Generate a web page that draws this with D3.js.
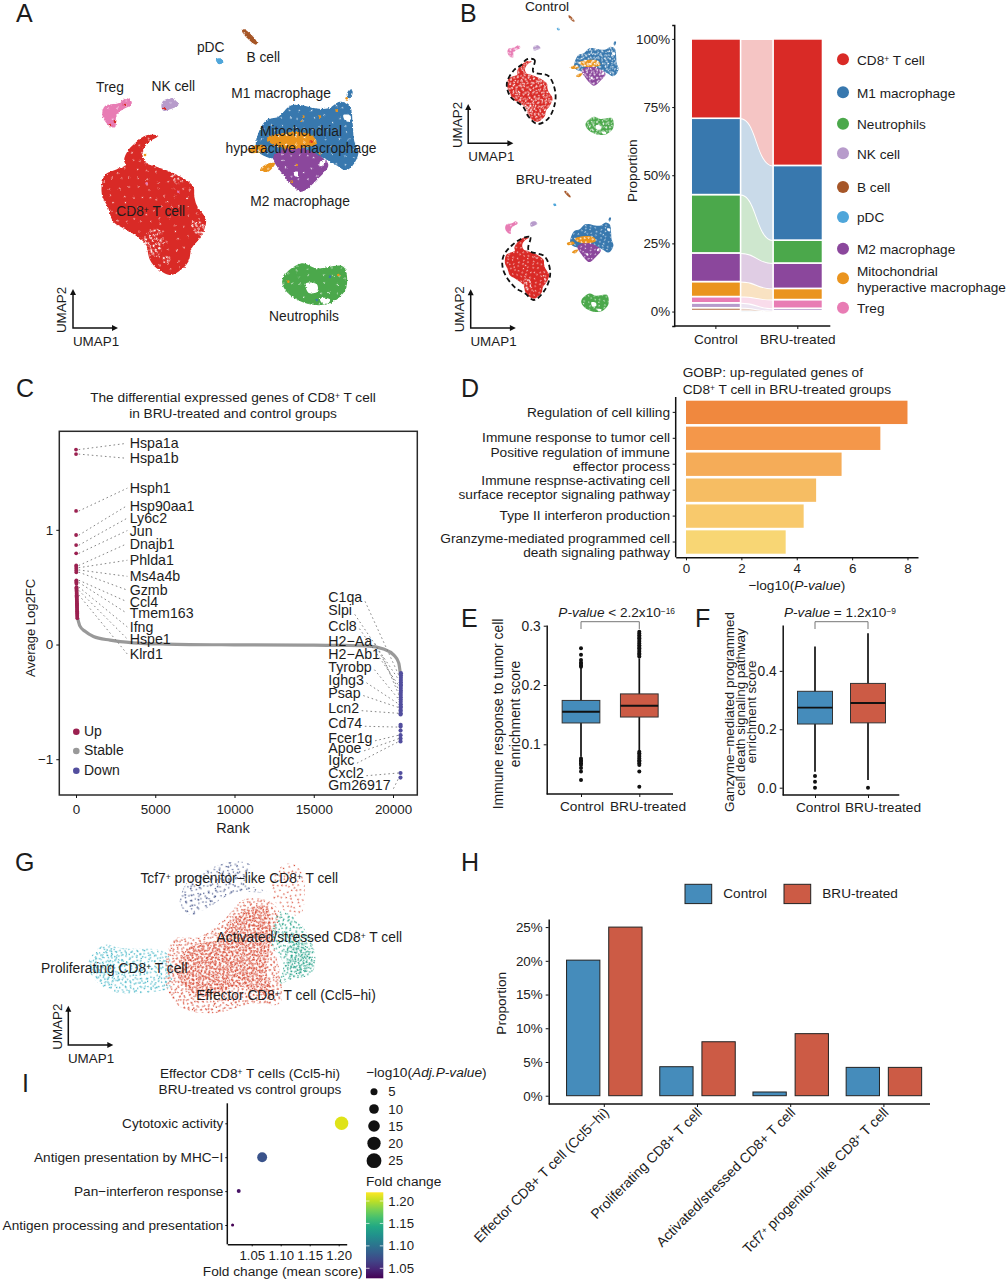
<!DOCTYPE html>
<html>
<head>
<meta charset="utf-8">
<script src="https://cdn.jsdelivr.net/npm/d3@7"></script>
<style>
html,body{margin:0;padding:0;background:#fff}
svg{display:block}
text{font-family:'Liberation Sans',Arial,sans-serif;fill:#1c1c1c}
</style>
</head>
<body>
<svg id="fig" width="1007" height="1280"></svg>
<script>
// ---------- cell atlas: cluster outlines on the embedding grid ----------
const clusterColor = {
  cd8:'#D92A26', m1:'#3878AE', neu:'#4BA84B', nk:'#B79BCB', bcell:'#A65628',
  pdc:'#4FA6DA', m2:'#8B479C', mito:'#EA941E', treg:'#E87CB4'
};
const cd8Outline = [[475,408],[440,406],[410,425],[385,450],[372,480],[376,495],[345,510],[315,525],[305,580],[325,625],[340,665],[390,695],[435,730],[450,780],[470,805],[510,825],[535,815],[565,785],[575,745],[595,720],[610,695],[618,660],[590,615],[583,590],[580,560],[550,535],[510,515],[470,500],[440,490],[428,468],[432,445],[448,425]];
const tregOutline = [[395,305],[380,295],[355,310],[315,318],[307,345],[325,375],[345,382],[350,345],[375,325],[393,315]];
const nkOutline = [[490,302],[520,296],[535,315],[510,328],[490,332],[484,318]];
const pdcOutline = [[648,178],[662,175],[670,188],[655,192]];
const bcellOutline = [[726,92],[733,88],[772,128],[768,134],[745,118]];
const m1Outline = [[800,360],[835,350],[870,318],[900,315],[945,325],[985,325],[1020,305],[1050,320],[1058,370],[1062,420],[1075,460],[1055,500],[1035,510],[1000,490],[960,470],[880,445],[820,475],[770,450],[775,400]];
const m1Tail = [[1040,285],[1050,268],[1058,275],[1048,298]];
const m2Outline = [[820,470],[880,440],[960,468],[985,495],[950,540],[905,575],[880,560],[850,525]];
const mitoCore = [[800,415],[880,396],[935,405],[950,430],[900,445],[830,440]];
const mitoLeft = [[745,445],[790,435],[800,450],[750,458]];
const mitoLower = [[780,510],[800,492],[825,490],[805,515]];
const neuOutline = [[850,830],[905,790],[950,805],[1030,800],[1040,860],[1020,890],[985,912],[925,912],[870,885],[848,855]];
const atlasShapes = [
  ['cd8',cd8Outline],['treg',tregOutline],['nk',nkOutline],['pdc',pdcOutline],['bcell',bcellOutline],
  ['m1',m1Outline],['m1',m1Tail],['m2',m2Outline],['mito',mitoCore],['mito',mitoLeft],['mito',mitoLower],['neu',neuOutline]
];
const sparseHoles = [
  [[430,720],[450,690],[480,690],[492,730],[470,770],[445,755]],
  [[490,768],[510,770],[508,790],[490,788]],
  [[515,525],[540,530],[540,552],[518,545]],
  [[575,665],[612,670],[606,705],[585,700]]
];
const solidHoles = [
  [[918,850],[950,852],[952,875],[925,878]],[[960,895],[990,898],[985,910],[965,908]],
  [[882,515],[895,517],[896,530],[884,528]],[[1030,345],[1052,348],[1048,365],[1034,360]],
  [[960,500],[975,490],[975,480],[960,485]]
];
const strayCells = [
  ['mito',910,350],['mito',960,350],['mito',905,365],['mito',1010,332],['mito',1040,295],['mito',960,460],
  ['cd8',935,425],['mito',1015,825],['mito',865,845],['treg',440,550],['treg',535,575],['mito',435,465],
  ['cd8',345,365],['cd8',330,375],['cd8',375,315],['cd8',492,325],['mito',890,495],['mito',875,545],['m1',990,830],['m1',950,900]
];
const gateControl = [[240,178],[262,180],[258,215],[300,228],[318,270],[318,310],[300,355],[270,372],[245,350],[230,320],[195,290],[185,250],[205,210],[225,195]];
const gateTreated = [[235,712],[250,712],[245,750],[290,770],[305,820],[290,870],[260,900],[235,880],[205,860],[175,810],[175,770],[200,735]];

// irregular dot tile shared by every stippled region
const stippleTile = [[2,5],[9,1],[15,7],[22,3],[29,9],[36,2],[44,6],[5,13],[12,16],[19,12],[26,17],[33,14],[40,11],[46,18],[1,22],[8,25],[16,21],[23,26],[30,23],[37,20],[43,27],[4,31],[11,34],[18,30],[27,33],[34,29],[41,35],[47,32],[7,40],[14,43],[21,38],[28,42],[35,39],[42,44],[3,46],[17,47],[31,46],[24,10],[39,24],[13,28]];

// ---------- panel B: composition ----------
const stackClusters = ['cd8','m1','neu','m2','mito','treg','nk','bcell','pdc'];
const controlShare = [29.1,28.0,21.4,10.5,5.5,2.3,1.8,1.0,0.4];
const treatedShare = [46.4,27.4,8.4,9.3,4.1,3.2,0.9,0.2,0.1];
const legendClusters = ['cd8','m1','neu','nk','bcell','pdc','m2','mito','treg'];
const legendNames = ['CD8^+^ T cell','M1 macrophage','Neutrophils','NK cell','B cell','pDC','M2 macrophage',['Mitochondrial','hyperactive macrophage'],'Treg'];
const groups = ['Control','BRU-treated'];

// ---------- panel C: ranked differential expression ----------
const stableRank = [100,250,570,1100,2150,3600,5700,10000,15000,17000,18360,19400,20040,20360,20460];
const stableFC = [0.23,0.16,0.115,0.07,0.038,0.015,0.004,-0.003,-0.006,-0.008,-0.012,-0.04,-0.09,-0.16,-0.25];
const upFC = [1.70,1.66,1.165,0.955,0.867,0.795,0.69,0.675,0.66,0.645,0.63,0.56,0.55,0.54,0.53,0.50,0.49,0.48,0.47,0.46,0.45,0.44,0.43,0.42,0.41,0.40,0.39,0.38,0.37,0.36,0.35,0.34,0.33,0.32,0.31,0.30,0.29,0.28,0.27,0.26,0.25,0.24,0.23];
const downFC = [-0.25,-0.27,-0.29,-0.31,-0.33,-0.35,-0.36,-0.38,-0.40,-0.42,-0.44,-0.46,-0.48,-0.50,-0.52,-0.54,-0.55,-0.57,-0.58,-0.60,-0.61,-0.70,-0.715,-0.75,-0.79,-0.82,-0.845,-1.12,-1.16];
const upGenes = ['Hspa1a','Hspa1b','Hsph1','Hsp90aa1','Ly6c2','Jun','Dnajb1','Phlda1','Ms4a4b','Gzmb','Ccl4','Tmem163','Ifng','Hspe1','Klrd1'];
const upGeneFC = [1.70,1.66,1.165,0.955,0.867,0.795,0.69,0.67,0.65,0.63,0.56,0.54,0.50,0.47,0.43];
const upLabelY = [443.3,458.3,488.3,505.7,518.3,530.7,543.7,560.3,576.3,590,601.7,613.3,626.7,638.7,653.7];
const downGenes = ['C1qa','Slpi','Ccl8','H2\u2212Aa','H2\u2212Ab1','Tyrobp','Ighg3','Psap','Lcn2','Cd74','Fcer1g','Apoe','Igkc','Cxcl2','Gm26917'];
const downGeneFC = [-0.27,-0.31,-0.36,-0.40,-0.44,-0.48,-0.52,-0.55,-0.60,-0.72,-0.79,-0.82,-0.845,-1.12,-1.16];
const downLabelY = [596.7,609.7,626,640.7,654.3,667,680,692.7,707.7,723.3,737.7,747.7,760,772.7,785.3];

// ---------- panel D: enrichment ----------
const goTerms = ['Regulation of cell killing','Immune response to tumor cell',['Positive regulation of immune','effector process'],['Immune respnse-activating cell','surface receptor signaling pathway'],'Type II interferon production',['Granzyme-mediated programmed cell','death signaling pathway']];
const goScores = [8.0,7.02,5.62,4.7,4.25,3.6];
const goColors = ['#F0883E','#F4974A','#F5AC58','#F6BD63','#F8C96C','#F8D674'];
const goLabelShift = [0,-1,-4.7,-3.3,-0.5,2.7];

// ---------- panels E, F: enrichment score distributions (low, q1, median, q3, high) ----------
const eControlBox = [0.079,0.136,0.155,0.174,0.234];
const eTreatedBox = [0.090,0.146,0.165,0.185,0.245];
const eControlOut = [0.262,0.251,0.242,0.238,0.236,0.233,0.231,0.076,0.073,0.071,0.068,0.065,0.060,0.054,0.040];
const eTreatedOut = [0.290,0.287,0.284,0.281,0.279,0.276,0.273,0.270,0.267,0.264,0.262,0.259,0.256,0.253,0.251,0.248,0.0875,0.085,0.082,0.079,0.076,0.073,0.071,0.068,0.065,0.054,0.0285];
const fControlBox = [0.055,0.218,0.274,0.33,0.483];
const fTreatedBox = [0.026,0.222,0.29,0.357,0.529];
const fControlOut = [0.04,0.02,0.0];
const fTreatedOut = [0.0];

// ---------- panel G: CD8 T cell subclusters ----------
const subColor = {tcf7:'#3F4F86', eff:'#D6452F', act:'#149A80', pro:'#35B0C2'};
const tcf7Region = [[540,190],[560,130],[620,90],[700,65],[750,75],[740,130],[800,155],[700,160],[620,205],[570,225]];
const effRegion = [[500,440],[520,300],[600,290],[680,230],[730,180],[800,180],[840,220],[820,300],[840,400],[840,490],[760,490],[640,520],[540,500]];
const effCore = [[530,400],[570,320],[650,300],[720,220],[800,200],[810,300],[800,400],[820,470],[720,440],[600,470]];
const effRing = [[810,150],[850,75],[900,80],[915,150],[900,225],[850,210]];
const actRegion = [[840,215],[900,250],[945,340],[935,400],[870,420],[840,430],[850,370],[815,310]];
const actCore = [[870,300],[930,330],[935,385],[870,405],[860,350]];
const proRegion = [[265,370],[310,315],[370,325],[500,340],[510,440],[460,455],[340,455],[285,420]];
const proCore = [[275,370],[315,325],[365,340],[370,420],[300,425]];

// ---------- panel H ----------
const subsetNames = ['Effector CD8+ T cell (Ccl5\u2212hi)','Proliferating CD8+ T cell','Activated/stressed CD8+ T cell','Tcf7^+^ progenitor\u2212like CD8^+^ T cell'];
const subsetControl = [20.1,4.3,0.55,4.2];
const subsetTreated = [25.0,8.0,9.2,4.2];

// ---------- panel I ----------
const pathways = ['Cytotoxic activity','Antigen presentation by MHC\u2212I','Pan\u2212interferon response','Antigen processing and presentation'];
const pathFold = [1.205,1.068,1.0276,1.017];
const pathLogP = [23,12.5,2,1.2];
const sizeLegend = [5,10,15,20,25];
const colorLegend = [1.20,1.15,1.10,1.05];

const blue = '#458CBB', red = '#CC5B45';
const svg = d3.select('#fig');
const defs = svg.append('defs');

// Rough cell-cloud edges for the embedding panels.
function roughFilter(id,scale){
  const f = defs.append('filter').attr('id',id).attr('x','-5%').attr('y','-5%').attr('width','110%').attr('height','110%');
  f.append('feTurbulence').attr('type','fractalNoise').attr('baseFrequency',0.55).attr('numOctaves',1).attr('seed',4).attr('result','n');
  f.append('feDisplacementMap').attr('in','SourceGraphic').attr('in2','n').attr('scale',scale).attr('xChannelSelector','R').attr('yChannelSelector','G');
}
roughFilter('rough',3.2);
roughFilter('roughSmall',1.8);

let stippleCount = 0;
function stipple(color, angle, scale, r){
  const id = 'st' + (stippleCount++);
  const p = defs.append('pattern').attr('id',id).attr('patternUnits','userSpaceOnUse')
    .attr('width',48).attr('height',48).attr('patternTransform',`rotate(${angle}) scale(${scale})`);
  p.selectAll('circle').data(stippleTile).join('circle')
    .attr('cx',d=>d[0]).attr('cy',d=>d[1]).attr('r',r).attr('fill',color);
  return `url(#${id})`;
}

// Text helper: ^x^ is a superscript, *x* is italic.
function rich(sel, s){
  sel.text(null);
  s.split(/(\^[^^]*\^|\*[^*]*\*)/).filter(Boolean).forEach(tok=>{
    if(tok[0]==='^'){
      sel.append('tspan').attr('font-size','62%').attr('baseline-shift','38%').text(tok.slice(1,-1));
    } else if(tok[0]==='*'){
      sel.append('tspan').attr('font-style','italic').text(tok.slice(1,-1));
    } else sel.append('tspan').text(tok);
  });
  return sel;
}
const T = 13.7;
function label(x,y,s,size=T,anchor='middle',rot=0){
  const t = svg.append('text').attr('transform',`translate(${x},${y}) rotate(${rot})`)
    .attr('text-anchor',anchor).attr('dy','.35em').attr('font-size',size);
  return rich(t,s);
}
function styleAxis(g,size,width=1.5){
  g.selectAll('.domain').attr('stroke','#111').attr('stroke-width',width);
  g.selectAll('.tick line').attr('stroke','#111').attr('stroke-width',1);
  g.selectAll('.tick text').attr('font-size',size).attr('fill','#1c1c1c').style('font-family',"'Liberation Sans',Arial,sans-serif");
  return g;
}
function umapArrows(ox,oy,top,right,lab1,lab2){
  const a = svg.append('g').attr('stroke','#111').attr('stroke-width',1.5).attr('fill','none');
  a.append('path').attr('d',d3.line()([[ox,top+4],[ox,oy],[right-4,oy]]));
  const h = svg.append('g').attr('fill','#111');
  h.append('path').attr('d',`M${ox},${top}l-3,6h6z`);
  h.append('path').attr('d',`M${right},${oy}l-6,-3v6z`);
  label(lab1[0],lab1[1],'UMAP1',13.4);
  label(lab2[0],lab2[1],'UMAP2',13.4,'middle',-90);
}
const panelLetters = [['A',16,22],['B',460,22],['C',16,397],['D',461,397],['E',461,627],['F',695,627],['G',15,871],['H',461,871],['I',22,1092]];
svg.selectAll('text.letter').data(panelLetters).join('text').attr('class','letter')
  .attr('x',d=>d[1]).attr('y',d=>d[2]).attr('font-size',25).text(d=>d[0]);

// ---------- atlas drawing shared by panels A and B ----------
function drawAtlas(xr,yr,speck,filterId,withDetail){
  const x = d3.scaleLinear().domain([0,1320]).range(xr);
  const y = d3.scaleLinear().domain([0,1080]).range(yr);
  const path = d3.line().x(d=>x(d[0])).y(d=>y(d[1])).curve(d3.curveCatmullRomClosed);
  const g = svg.append('g').attr('filter',`url(#${filterId})`);
  g.selectAll('path.c').data(atlasShapes).join('path').attr('class','c')
    .attr('d',d=>path(d[1])).attr('fill',d=>clusterColor[d[0]]);
  speck.forEach((sp,k)=>g.selectAll('path.s'+k).data(atlasShapes).join('path').attr('class','s'+k)
    .attr('d',d=>path(d[1])).attr('fill',sp));
  g.selectAll('path.h').data(sparseHoles).join('path').attr('class','h').attr('d',path).attr('fill',stipple('#fff',15,0.5,withDetail?2.2:1.8));
  g.selectAll('path.w').data(solidHoles).join('path').attr('class','w').attr('d',path).attr('fill','#fff');
  if(withDetail){
    g.selectAll('circle').data(strayCells).join('circle').attr('cx',d=>x(d[1])).attr('cy',d=>y(d[2])).attr('r',1.3).attr('fill',d=>clusterColor[d[0]]);
  }
}

// Panel A
drawAtlas([0,440],[0,360],[stipple('#fff',30,1.2,0.6)],'rough',true);
[[210.7,46.7,'pDC'],[263.3,56.7,'B cell'],[110,87.3,'Treg'],[173.3,86,'NK cell'],[281,92.7,'M1 macrophage'],
 [301,131,'Mitochondrial'],[301,147.7,'hyperactive macrophage'],[150.7,210.7,'CD8^+^ T cell'],[300,201,'M2 macrophage'],[304,315.7,'Neutrophils']]
  .forEach(d=>label(d[0],d[1],d[2],13.8));
umapArrows(73,328,289,118,[96,341.7],[61.7,310]);

// Panel B embeddings: the control sample is the sparser of the two
drawAtlas([463.1,654],[2.6,158.7],[stipple('#fff',20,0.5,1.35),stipple('#fff',75,0.6,1.2),stipple('#fff',125,0.55,1.1)],'roughSmall',false);
drawAtlas([461.9,648],[178,336],[stipple('#fff',50,0.55,1.15)],'roughSmall',false);
const gx = d3.scaleLinear().domain([0,1701]).range([440,1054.7]);
const gy = d3.scaleLinear().domain([0,1080]).range([0,360]);
const gatePath = d3.line().x(d=>gx(d[0])).y(d=>gy(d[1])).curve(d3.curveCatmullRomClosed);
[gateControl,gateTreated].forEach(p=>svg.append('path').attr('d',gatePath(p)).attr('fill','none')
  .attr('stroke','#111').attr('stroke-width',1.8).attr('stroke-dasharray','5 3'));
label(547,6.7,'Control');
label(553.8,179.3,'BRU-treated');
umapArrows(468.2,143.3,104,513.4,[491.3,156.7],[457,125]);
umapArrows(470.7,328,289.3,515.9,[493.5,341.7],[458.8,309.3]);

// Panel B stacked composition with alluvial ribbons
(function(){
  const table = groups.map((g,i)=>{
    const row = {group:g};
    stackClusters.forEach((c,k)=>row[c]=(i?treatedShare:controlShare)[k]);
    return row;
  });
  const series = d3.stack().keys(stackClusters.slice().reverse())(table);
  const x = d3.scaleBand().domain(groups).range([678.9,834.8]).paddingInner(0.397).paddingOuter(0.15);
  const y = d3.scaleLinear().domain([-5.3,105.1]).range([326,25]);
  const area = d3.area().curve(d3.curveBumpX).x(d=>d[0]).y0(d=>d[1]).y1(d=>d[2]);
  const line = d3.line().curve(d3.curveBumpX);
  const x0 = x('Control')+x.bandwidth(), x1 = x('BRU-treated');
  series.forEach(s=>{
    const pts = [[x0,y(s[0][0]),y(s[0][1])],[x1,y(s[1][0]),y(s[1][1])]];
    svg.append('path').attr('d',area(pts)).attr('fill',clusterColor[s.key]).attr('fill-opacity',0.27);
    svg.append('path').attr('d',line([[x0,pts[0][2]],[x1,pts[1][2]]])).attr('fill','none').attr('stroke','#fff').attr('stroke-width',2);
    s.forEach((d,i)=>svg.append('rect').attr('x',x(groups[i])).attr('width',x.bandwidth())
      .attr('y',y(d[1])).attr('height',Math.max(0,y(d[0])-y(d[1]))).attr('fill',clusterColor[s.key]).attr('stroke','#fff').attr('stroke-width',1.6));
  });
  const ax = svg.append('g').attr('transform','translate(674.2,0)')
    .call(d3.axisLeft(y).tickValues([0,25,50,75,100]).tickFormat(d=>d+'%').tickSizeOuter(0).tickSize(2));
  styleAxis(ax,13.4);
  ax.selectAll('.tick text').attr('x',-4);
  const bx = svg.append('g').attr('transform','translate(0,326)').call(d3.axisBottom(x).tickSize(3).tickSizeOuter(0));
  bx.select('.domain').remove();
  styleAxis(bx,13.6);
  svg.append('line').attr('x1',674.2).attr('x2',830.3).attr('y1',326).attr('y2',326).attr('stroke','#111').attr('stroke-width',1.5);
  bx.selectAll('.tick text').attr('dy','.9em');
  label(632.3,170.7,'Proportion',13.6,'middle',-90);
  const legendY = [59.3,92.3,123.7,153.3,187,217,248.7,278.3,307.7];
  legendClusters.forEach((c,i)=>{
    svg.append('circle').attr('cx',843).attr('cy',legendY[i]).attr('r',6).attr('fill',clusterColor[c]);
    const n = legendNames[i];
    if(Array.isArray(n)){
      label(857,271.5,n[0],13.6,'start');
      label(857,287.5,n[1],13.6,'start');
    } else label(857,legendY[i]+0.5,n,13.6,'start');
  });
})();

// Panel C
(function(){
  const x = d3.scaleLinear().domain([-1054,21533]).range([59.3,417.3]);
  const y = d3.scaleLinear().domain([-1.312,1.859]).range([795,431.3]);
  const upColor = '#9B2050', downColor = '#524E9E', stableColor = '#999';
  label(233,397,'The differential expressed genes of CD8^+^ T cell');
  label(233,413.6,'in BRU-treated and control groups');
  const stable = d3.line().x((d,i)=>x(stableRank[i])).y(d=>y(d)).curve(d3.curveMonotoneX);
  svg.append('path').attr('d',stable(stableFC)).attr('fill','none').attr('stroke',stableColor).attr('stroke-width',3.2);
  svg.selectAll('circle.up').data(upFC).join('circle').attr('class','up')
    .attr('cx',(d,i)=>x(i*2)).attr('cy',d=>y(d)).attr('r',1.9).attr('fill',upColor);
  svg.selectAll('circle.down').data(downFC).join('circle').attr('class','down')
    .attr('cx',(d,i)=>x(20500-i)).attr('cy',d=>y(d)).attr('r',2.1).attr('fill',downColor);
  const dotted = (x1,y1,x2,y2)=>svg.append('line').attr('x1',x1).attr('y1',y1).attr('x2',x2).attr('y2',y2)
    .attr('stroke','#777').attr('stroke-width',0.9).attr('stroke-dasharray','0.8 3.6').attr('stroke-linecap','round');
  upGenes.forEach((g,i)=>{
    dotted(x(0)+3,y(upGeneFC[i]),127,upLabelY[i]);
    label(129.7,upLabelY[i],g,14.2,'start');
  });
  downGenes.forEach((g,i)=>{
    const t = label(328.3,downLabelY[i],g,14.2,'start');
    const end = 328.3 + t.node().getComputedTextLength();
    dotted(end+3,downLabelY[i]+(i<2?5:3),x(20500)-2,y(downGeneFC[i]));
  });
  svg.append('rect').attr('x',59.3).attr('y',431.3).attr('width',358).attr('height',363.7).attr('fill','none').attr('stroke','#2a2a2a').attr('stroke-width',1.5);
  const ax = svg.append('g').attr('transform','translate(59.3,0)').call(d3.axisLeft(y).tickValues([-1,0,1]).tickFormat(d3.format('d')).tickSize(3).tickSizeOuter(0));
  ax.select('.domain').remove(); styleAxis(ax,13.4);
  const bx = svg.append('g').attr('transform','translate(0,795)').call(d3.axisBottom(x).tickValues([0,5000,10000,15000,20000]).tickFormat(d3.format('d')).tickSize(3).tickSizeOuter(0));
  bx.select('.domain').remove(); styleAxis(bx,13.4);
  bx.selectAll('.tick text').attr('dy','.95em');
  label(233,828,'Rank',14.4);
  label(30,628,'Average Log2FC',13,'middle',-90);
  [['Up',upColor,731.7],['Stable',stableColor,751],['Down',downColor,770.7]].forEach(d=>{
    svg.append('circle').attr('cx',76.3).attr('cy',d[2]).attr('r',3.3).attr('fill',d[1]);
    label(84,d[2]-0.8,d[0],14,'start');
  });
})();

// Panel D
(function(){
  const x = d3.scaleLinear().domain([-0.372,8.38]).range([675.7,918]);
  const y = d3.scaleBand().domain(d3.range(goTerms.length)).range([400.7,553.7]).paddingInner(0.1);
  svg.selectAll('rect.go').data(goScores).join('rect').attr('class','go')
    .attr('x',x(0)).attr('y',(d,i)=>y(i)).attr('width',d=>x(d)-x(0)).attr('height',y.bandwidth()).attr('fill',(d,i)=>goColors[i]);
  const bx = svg.append('g').attr('transform','translate(0,557.3)').call(d3.axisBottom(x).tickValues([0,2,4,6,8]).tickSize(3).tickSizeOuter(0));
  styleAxis(bx,13.4);
  const ax = svg.append('g').attr('transform','translate(675.7,0)').call(d3.axisLeft(y).tickFormat('').tickSize(3).tickSizeOuter(0));
  ax.select('.domain').remove(); styleAxis(ax,13);
  svg.append('line').attr('x1',675.7).attr('x2',675.7).attr('y1',397).attr('y2',557.3).attr('stroke','#111').attr('stroke-width',1.5);
  goTerms.forEach((t,i)=>{
    const c = y(i)+y.bandwidth()/2+goLabelShift[i];
    if(Array.isArray(t)){
      label(670,c-7,t[0],T,'end');
      label(670,c+7,t[1],T,'end');
    } else label(670,c,t,T,'end');
  });
  label(682.7,372.7,'GOBP: up-regulated genes of',T,'start');
  label(682.7,389.3,'CD8^+^ T cell in BRU-treated groups',T,'start');
  label(796.7,585.7,'\u2212log10(*P-value*)');
})();

// Panels E and F share the same box-and-whisker construction.
function boxPanel(o){
  const y = d3.scaleLinear().domain(o.domain).range([o.bottom,625]);
  const x = d3.scalePoint().domain(groups).range(o.centers);
  const ax = svg.append('g').attr('transform',`translate(${o.left},0)`)
    .call(d3.axisLeft(y).tickValues(o.ticks).tickFormat(d3.format('.1f')).tickSize(3).tickSizeOuter(0));
  styleAxis(ax,13.8);
  const bx = svg.append('g').attr('transform',`translate(0,${o.bottom})`).call(d3.axisBottom(x).tickSize(3).tickSizeOuter(0).tickFormat(''));
  bx.select('.domain').remove(); styleAxis(bx,13.6);
  groups.forEach((g,i)=>label(o.labelX[i],o.bottom+12.5,g,13.7));
  svg.append('line').attr('x1',o.left).attr('x2',o.right).attr('y1',o.bottom).attr('y2',o.bottom).attr('stroke','#111').attr('stroke-width',1.5);
  groups.forEach((g,i)=>{
    const s = o.boxes[i], cx = x(g), w = o.boxWidth;
    svg.append('line').attr('x1',cx).attr('x2',cx).attr('y1',y(s[0])).attr('y2',y(s[4])).attr('stroke','#111').attr('stroke-width',1.7);
    svg.append('rect').attr('x',cx-w/2).attr('width',w).attr('y',y(s[3])).attr('height',y(s[1])-y(s[3]))
      .attr('fill',i?red:blue).attr('stroke','#333').attr('stroke-width',1);
    svg.append('line').attr('x1',cx-w/2).attr('x2',cx+w/2).attr('y1',y(s[2])).attr('y2',y(s[2])).attr('stroke','#111').attr('stroke-width',1.9);
    svg.selectAll(null).data(o.out[i]).join('circle').attr('cx',cx).attr('cy',d=>y(d)).attr('r',2).attr('fill','#111');
  });
  const c = o.centers;
  svg.append('path').attr('d',d3.line()([[c[0],629],[c[0],621.7],[c[1],621.7],[c[1],629]])).attr('fill','none').attr('stroke','#777').attr('stroke-width',1);
  label(o.pText,612.7,o.pLabel,13.6);
}
boxPanel({left:546.7,right:673,bottom:794,domain:[0.0162,0.3012],ticks:[0.1,0.2,0.3],centers:[581,639.3],boxWidth:37.7,labelX:[582,648],
  boxes:[eControlBox,eTreatedBox],out:[eControlOut,eTreatedOut],pText:616.7,pLabel:'*P-value* < 2.2x10^\u221216^'});
label(498,714,'Immune response to tumor cell',13.9,'middle',-90);
label(515,714,'enrichment score',13.9,'middle',-90);
boxPanel({left:782.7,right:899.3,bottom:795,domain:[-0.025,0.557],ticks:[0,0.2,0.4],centers:[815,868],boxWidth:35,labelX:[818,883],
  boxes:[fControlBox,fTreatedBox],out:[fControlOut,fTreatedOut],pText:840,pLabel:'*P-value* = 1.2x10^\u22129^'});
label(729,712,'Ganzyme\u2212mediated programmed',13.4,'middle',-90);
label(740,712,'cell death signaling pathway',13.4,'middle',-90);
label(751,712,'enrichment score',13.4,'middle',-90);

// Panel G: stippled density of each subcluster
(function(){
  const x = d3.scaleLinear().domain([0,1320]).range([0,440]);
  const y = d3.scaleLinear().domain([0,690]).range([840,1070]);
  const path = d3.line().x(d=>x(d[0])).y(d=>y(d[1])).curve(d3.curveCatmullRomClosed);
  const layers = [
    [tcf7Region,subColor.tcf7,[[10,0.62,1.15],[60,0.9,1.0]]],
    [proRegion,subColor.pro,[[15,0.55,1.35],[65,0.7,1.15]]],
    [proCore,subColor.pro,[[40,0.6,1.2]]],
    [effRegion,subColor.eff,[[20,0.55,1.4],[70,0.6,1.25]]],
    [effCore,subColor.eff,[[110,0.5,1.5],[45,0.5,1.5],[150,0.62,1.25]]],
    [effRing,subColor.eff,[[30,0.6,1.3]]],
    [actRegion,subColor.act,[[25,0.55,1.4],[80,0.6,1.25]]],
    [actCore,subColor.act,[[55,0.5,1.5],[120,0.6,1.25]]]
  ];
  layers.forEach(l=>l[2].forEach(p=>{
    svg.append('path').attr('d',path(l[0])).attr('fill',stipple(l[1],p[0],p[1],p[2]));
  }));
  label(239.3,877.7,'Tcf7^+^ progenitor\u2212like CD8^+^ T cell',13.8);
  label(309.3,936.7,'Activated/stressed CD8^+^ T cell',13.8);
  label(114.3,968.3,'Proliferating CD8^+^ T cell',13.8);
  label(286,995,'Effector CD8^+^ T cell (Ccl5\u2212hi)',13.8);
  umapArrows(68.3,1045,1005.7,113.3,[91,1058.3],[57.3,1026.7]);
})();

// Panel H
(function(){
  const x = d3.scaleBand().domain(subsetNames).range([557.7,930.5]);
  const inner = d3.scaleBand().domain(groups).range([0,x.bandwidth()]).padding(0.21);
  const y = d3.scaleLinear().domain([-1.23,26.2]).range([1104,919]);
  subsetNames.forEach((n,i)=>{
    groups.forEach((g,k)=>{
      const v = (k?subsetTreated:subsetControl)[i];
      svg.append('rect').attr('x',x(n)+inner(g)).attr('width',inner.bandwidth())
        .attr('y',y(v)).attr('height',y(0)-y(v)).attr('fill',k?red:blue).attr('stroke','#222').attr('stroke-width',1);
    });
    const cx = x(n)+x.bandwidth()/2;
    const t = svg.append('text').attr('transform',`translate(${cx+2},1110) rotate(-45)`).attr('text-anchor','end').attr('dy','.35em').attr('font-size',13.9);
    rich(t,n);
  });
  const ax = svg.append('g').attr('transform','translate(548.7,0)')
    .call(d3.axisLeft(y).tickValues([0,5,10,15,20,25]).tickFormat(d=>d+'%').tickSize(3).tickSizeOuter(0));
  styleAxis(ax,13.4);
  const bx = svg.append('g').attr('transform','translate(0,1104)').call(d3.axisBottom(x).tickFormat('').tickSize(3).tickSizeOuter(0));
  bx.select('.domain').remove(); styleAxis(bx,12);
  svg.append('line').attr('x1',548.7).attr('x2',930).attr('y1',1104).attr('y2',1104).attr('stroke','#111').attr('stroke-width',1.5);
  label(501.7,1003.3,'Proportion',13.6,'middle',-90);
  [[685,blue,723.3,'Control'],[784,red,822.3,'BRU-treated']].forEach(d=>{
    svg.append('rect').attr('x',d[0]).attr('y',884.3).attr('width',26.7).attr('height',19.3).attr('fill',d[1]).attr('stroke','#222').attr('stroke-width',1);
    label(d[2],893.3,d[3],13.6,'start');
  });
})();

// Panel I: bubble plot with size and colour legends
(function(){
  const x = d3.scaleLinear().domain([1.0079,1.2138]).range([227.3,346.7]);
  const y = d3.scalePoint().domain(pathways).range([1123.3,1225]);
  const r = d3.scaleSqrt().domain([0,25]).range([0,7]);
  const color = d3.scaleSequential(d3.interpolateViridis).domain([1.017,1.215]);
  label(250,1073.3,'Effector CD8^+^ T cells (Ccl5-hi)',13.6);
  label(250,1089.3,'BRU-treated vs control groups',13.6);
  const ax = svg.append('g').attr('transform','translate(227.3,0)').call(d3.axisLeft(y).tickSize(2).tickSizeOuter(0));
  ax.select('.domain').remove(); styleAxis(ax,13.6);
  ax.selectAll('.tick text').attr('x',-4);
  svg.append('line').attr('x1',227.3).attr('x2',227.3).attr('y1',1103.3).attr('y2',1244.3).attr('stroke','#111').attr('stroke-width',1.5);
  const bx = svg.append('g').attr('transform','translate(0,1244.3)').call(d3.axisBottom(x).tickValues([1.05,1.10,1.15,1.20]).tickFormat(d3.format('.2f')).tickSize(2).tickSizeOuter(0));
  styleAxis(bx,13.2);
  bx.selectAll('.tick text').attr('dy','.8em');
  svg.selectAll('circle.path').data(pathways).join('circle').attr('class','path')
    .attr('cx',(d,i)=>x(pathFold[i])).attr('cy',d=>y(d)).attr('r',(d,i)=>r(pathLogP[i])).attr('fill',(d,i)=>color(pathFold[i]));
  label(282.7,1271.7,'Fold change (mean score)',13.7);
  label(366,1072.7,'\u2212log10(*Adj.P-value*)',13.7,'start');
  const sizeY = [1091.7,1109,1126,1143.3,1160.7];
  sizeLegend.forEach((v,i)=>{
    svg.append('circle').attr('cx',374).attr('cy',sizeY[i]).attr('r',r(v)+0.4).attr('fill','#111');
    label(388.3,sizeY[i],String(v),13.2,'start');
  });
  label(366,1181.7,'Fold change',13.7,'start');
  const cy = d3.scaleLinear().domain([1.05,1.20]).range([1268.3,1201]);
  const grad = defs.append('linearGradient').attr('id','vir').attr('x1',0).attr('x2',0).attr('y1',1).attr('y2',0);
  d3.range(0,1.01,0.1).forEach(t=>grad.append('stop').attr('offset',t).attr('stop-color',d3.interpolateViridis(t)));
  svg.append('rect').attr('x',366).attr('y',1192.3).attr('width',17.3).attr('height',86).attr('fill','url(#vir)');
  colorLegend.forEach(v=>{
    svg.append('line').attr('x1',366).attr('x2',369.5).attr('y1',cy(v)).attr('y2',cy(v)).attr('stroke','#fff').attr('stroke-width',0.7);
    svg.append('line').attr('x1',379.8).attr('x2',383.3).attr('y1',cy(v)).attr('y2',cy(v)).attr('stroke','#fff').attr('stroke-width',0.7);
    label(388.3,cy(v),d3.format('.2f')(v),13.2,'start');
  });
})();
</script>
</body>
</html>
